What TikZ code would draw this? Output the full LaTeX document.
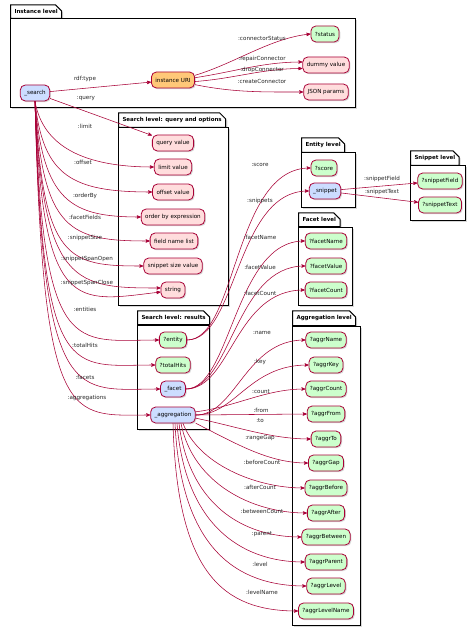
\documentclass[tikz,border=0pt]{standalone}
\usepackage{fontspec}
\setmainfont{DejaVu Sans}
\usetikzlibrary{arrows,shadows,shapes.misc}
\definecolor{color1}{RGB}{168,0,54}
\definecolor{color2}{RGB}{255,221,221}
\definecolor{color3}{RGB}{204,255,204}
\definecolor{color4}{RGB}{204,221,255}
\definecolor{color5}{RGB}{255,200,120}
\tikzset{
  basenode/.style = {align=center, rounded corners=5pt, draw=color1, line width=0.8pt,
    minimum height=16pt, inner xsep=4pt, inner ysep=0pt, font=\fontsize{5.6}{6}\selectfont,
    drop shadow={shadow xshift=1.2pt, shadow yshift=-1.2pt, opacity=0.3}},
  valnode/.style = {basenode, fill=color2},
  varnode/.style = {basenode, fill=color3},
  objnode/.style = {basenode, fill=color4},
  urinode/.style = {basenode, fill=color5},
  pkg/.style = {draw=black, line width=1pt, fill=white,
    drop shadow={shadow xshift=1.5pt, shadow yshift=-1.5pt, opacity=0.3}},
  pkgtab/.style = {pkg, chamfered rectangle, chamfered rectangle corners=north east,
    chamfered rectangle xsep=2.5pt, anchor=south west, inner xsep=1.5pt, inner ysep=1pt,
    minimum height=9pt, font=\bfseries\fontsize{5.5}{6}\selectfont},
  elabel/.style = {inner sep=0pt, font=\fontsize{5.6}{6}\selectfont, text=black!85},
}

\begin{document}
\begin{tikzpicture}[x=1pt,y=-1pt,->,>=stealth',line width=0.55pt,draw=color1]
\path[use as bounding box, fill=white] (0,0) rectangle (474,631);

% packages
\node[pkgtab] (tinst) at (10,19) {Instance level};
\draw[pkg] (10,19) rectangle (355,108);
\node[pkgtab] (tquery) at (118,128) {Search level: query and options};
\draw[pkg] (118,128) rectangle (228,305);
\node[pkgtab] (tres) at (137,325) {Search level: results};
\draw[pkg] (137,325) rectangle (209,429);
\node[pkgtab] (tent) at (301,153) {Entity level};
\draw[pkg] (301,153) rectangle (355,207);
\node[pkgtab] (tsnip) at (410,166) {Snippet level};
\draw[pkg] (410,166) rectangle (465,220);
\node[pkgtab] (tfac) at (298,227) {Facet level};
\draw[pkg] (298,227) rectangle (352,305);
\node[pkgtab] (taggr) at (292,326) {Aggregation level};
\draw[pkg] (292,326) rectangle (360,625);

% instance level
\node[objnode] (search) at (35,93) {\_search};
\node[urinode] (iuri) at (173,80) {instance URI};
\node[varnode] (status) at (325,34) {?status};
\node[valnode] (dummy) at (326,65) {dummy value};
\node[valnode] (json) at (326,92) {JSON params};

% query and options
\node[valnode] (queryv) at (173,143) {query value};
\node[valnode] (limitv) at (173,167) {limit value};
\node[valnode] (offsetv) at (173,192) {offset value};
\node[valnode] (orderv) at (173,217) {order by expression};
\node[valnode] (fieldv) at (174,241) {field name list};
\node[valnode] (sizev) at (173,266) {snippet size value};
\node[valnode] (stringv) at (173,290) {string};

% results
\node[varnode] (entity) at (173,340) {?entity};
\node[varnode] (total) at (173,365) {?totalHits};
\node[objnode] (facet) at (173,389) {\_facet};
\node[objnode] (aggr) at (173,415) {\_aggregation};

% entity, snippet, facet
\node[varnode] (score) at (324,168) {?score};
\node[objnode] (snippet) at (325,191) {\_snippet};
\node[varnode] (sfield) at (440,181) {?snippetField};
\node[varnode] (stext) at (440,205) {?snippetText};
\node[varnode] (fname) at (326,241) {?facetName};
\node[varnode] (fvalue) at (326,266) {?facetValue};
\node[varnode] (fcount) at (326,290) {?facetCount};

% aggregation
\node[varnode] (aname) at (326,340) {?aggrName};
\node[varnode] (akey) at (326,365) {?aggrKey};
\node[varnode] (acount) at (326,389) {?aggrCount};
\node[varnode] (afrom) at (326,414) {?aggrFrom};
\node[varnode] (ato) at (326,439) {?aggrTo};
\node[varnode] (agap) at (326,463) {?aggrGap};
\node[varnode] (abefore) at (326,488) {?aggrBefore};
\node[varnode] (aafter) at (326,513) {?aggrAfter};
\node[varnode] (abetween) at (326,537) {?aggrBetween};
\node[varnode] (aparent) at (326,562) {?aggrParent};
\node[varnode] (alevel) at (326,586) {?aggrLevel};
\node[varnode] (alname) at (326,611) {?aggrLevelName};

% edges of the instance
\draw (search) -- (iuri) node[elabel] at (85,79) {rdf:type};
\draw (search) -- (queryv) node[elabel] at (86,99) {:query};
\draw (iuri.12) .. controls +(40,-12) and +(-40,4) .. (status.west) node[elabel] at (262,38) {:connectorStatus};
\draw (iuri.6) .. controls +(40,-6) and +(-40,0) .. ([yshift=3pt]dummy.west) node[elabel] at (262,59) {:repairConnector};
\draw (iuri.-4) .. controls +(40,-3) and +(-40,0) .. ([yshift=-3.5pt]dummy.west) node[elabel] at (262,70) {:dropConnector};
\draw (iuri.-12) .. controls +(40,8) and +(-40,0) .. (json.west) node[elabel] at (262,81) {:createConnector};

% edges of the search
\draw (search.south) .. controls +(8,45) and +(-70,0) .. (limitv.west) node[elabel] at (85,126) {:limit};
\draw (search.south) .. controls +(8,75) and +(-80,0) .. (offsetv.west) node[elabel] at (83,162) {:offset};
\draw (search.south) .. controls +(8,100) and +(-70,0) .. (orderv.west) node[elabel] at (85,196) {:orderBy};
\draw (search.south) .. controls +(8,130) and +(-80,0) .. (fieldv.west) node[elabel] at (85,217) {:facetFields};
\draw (search.south) .. controls +(8,160) and +(-75,0) .. (sizev.west) node[elabel] at (85,238) {:snippetSize};
\draw (search.south) .. controls +(8,185) and +(-85,0) .. ([yshift=2pt]stringv.west) node[elabel] at (87,259) {:snippetSpanOpen};
\draw (search.south) .. controls +(8,215) and +(-85,10) .. ([yshift=-2pt]stringv.west) node[elabel] at (87,283) {:snippetSpanClose};
\draw (search.south) .. controls +(8,260) and +(-85,0) .. (entity.west) node[elabel] at (85,309) {:entities};
\draw (search.south) .. controls +(8,285) and +(-85,0) .. (total.west) node[elabel] at (85,345) {:totalHits};
\draw (search.south) .. controls +(8,310) and +(-85,0) .. (facet.west) node[elabel] at (85,377) {:facets};
\draw (search.south) .. controls +(8,330) and +(-80,0) .. (aggr.west) node[elabel] at (87,398) {:aggregations};

% edges of the results
\draw (entity.east) .. controls +(50,0) and +(-77,0) .. (score.west) node[elabel] at (260,165) {:score};
\draw (entity.east) .. controls +(50,0) and +(-73,0) .. (snippet.west) node[elabel] at (260,201) {:snippets};
\draw (snippet) -- (sfield) node[elabel] at (382,179) {:snippetField};
\draw (snippet) -- (stext) node[elabel] at (382,192) {:snippetText};
\draw (facet.east) .. controls +(45,0) and +(-70,0) .. (fname.west) node[elabel] at (260,237) {:facetName};
\draw (facet.east) .. controls +(45,0) and +(-70,0) .. (fvalue.west) node[elabel] at (260,267) {:facetValue};
\draw (facet.east) .. controls +(45,0) and +(-70,0) .. (fcount.west) node[elabel] at (260,293) {:facetCount};

% edges of the aggregation
\draw (aggr.east) .. controls +(40,0) and +(-60,0) .. (aname.west) node[elabel] at (262,333) {:name};
\draw (aggr.east) .. controls +(40,0) and +(-60,0) .. (akey.west) node[elabel] at (260,362) {:key};
\draw (aggr.8) .. controls +(40,-5) and +(-40,0) .. (acount.west) node[elabel] at (261,392) {:count};
\draw (aggr.east) -- (afrom.west) node[elabel] at (261,410) {:from};
\draw (aggr.-8) .. controls +(40,8) and +(-40,0) .. (ato.west) node[elabel] at (260,421) {:to};
\draw (aggr.-20) .. controls +(40,20) and +(-40,0) .. (agap.west) node[elabel] at (260,438) {:rangeGap};
\draw ([xshift=10pt]aggr.south) .. controls +(15,40) and +(-50,0) .. (abefore.west) node[elabel] at (262,462) {:beforeCount};
\draw ([xshift=8pt]aggr.south) .. controls +(12,60) and +(-55,0) .. (aafter.west) node[elabel] at (260,487) {:afterCount};
\draw ([xshift=6pt]aggr.south) .. controls +(10,80) and +(-60,0) .. (abetween.west) node[elabel] at (262,511) {:betweenCount};
\draw ([xshift=4pt]aggr.south) .. controls +(8,100) and +(-65,0) .. (aparent.west) node[elabel] at (262,534) {:parent};
\draw ([xshift=2pt]aggr.south) .. controls +(6,125) and +(-70,0) .. (alevel.west) node[elabel] at (260,564) {:level};
\draw (aggr.south) .. controls +(4,150) and +(-75,0) .. (alname.west) node[elabel] at (262,592) {:levelName};
\end{tikzpicture}
\end{document}
